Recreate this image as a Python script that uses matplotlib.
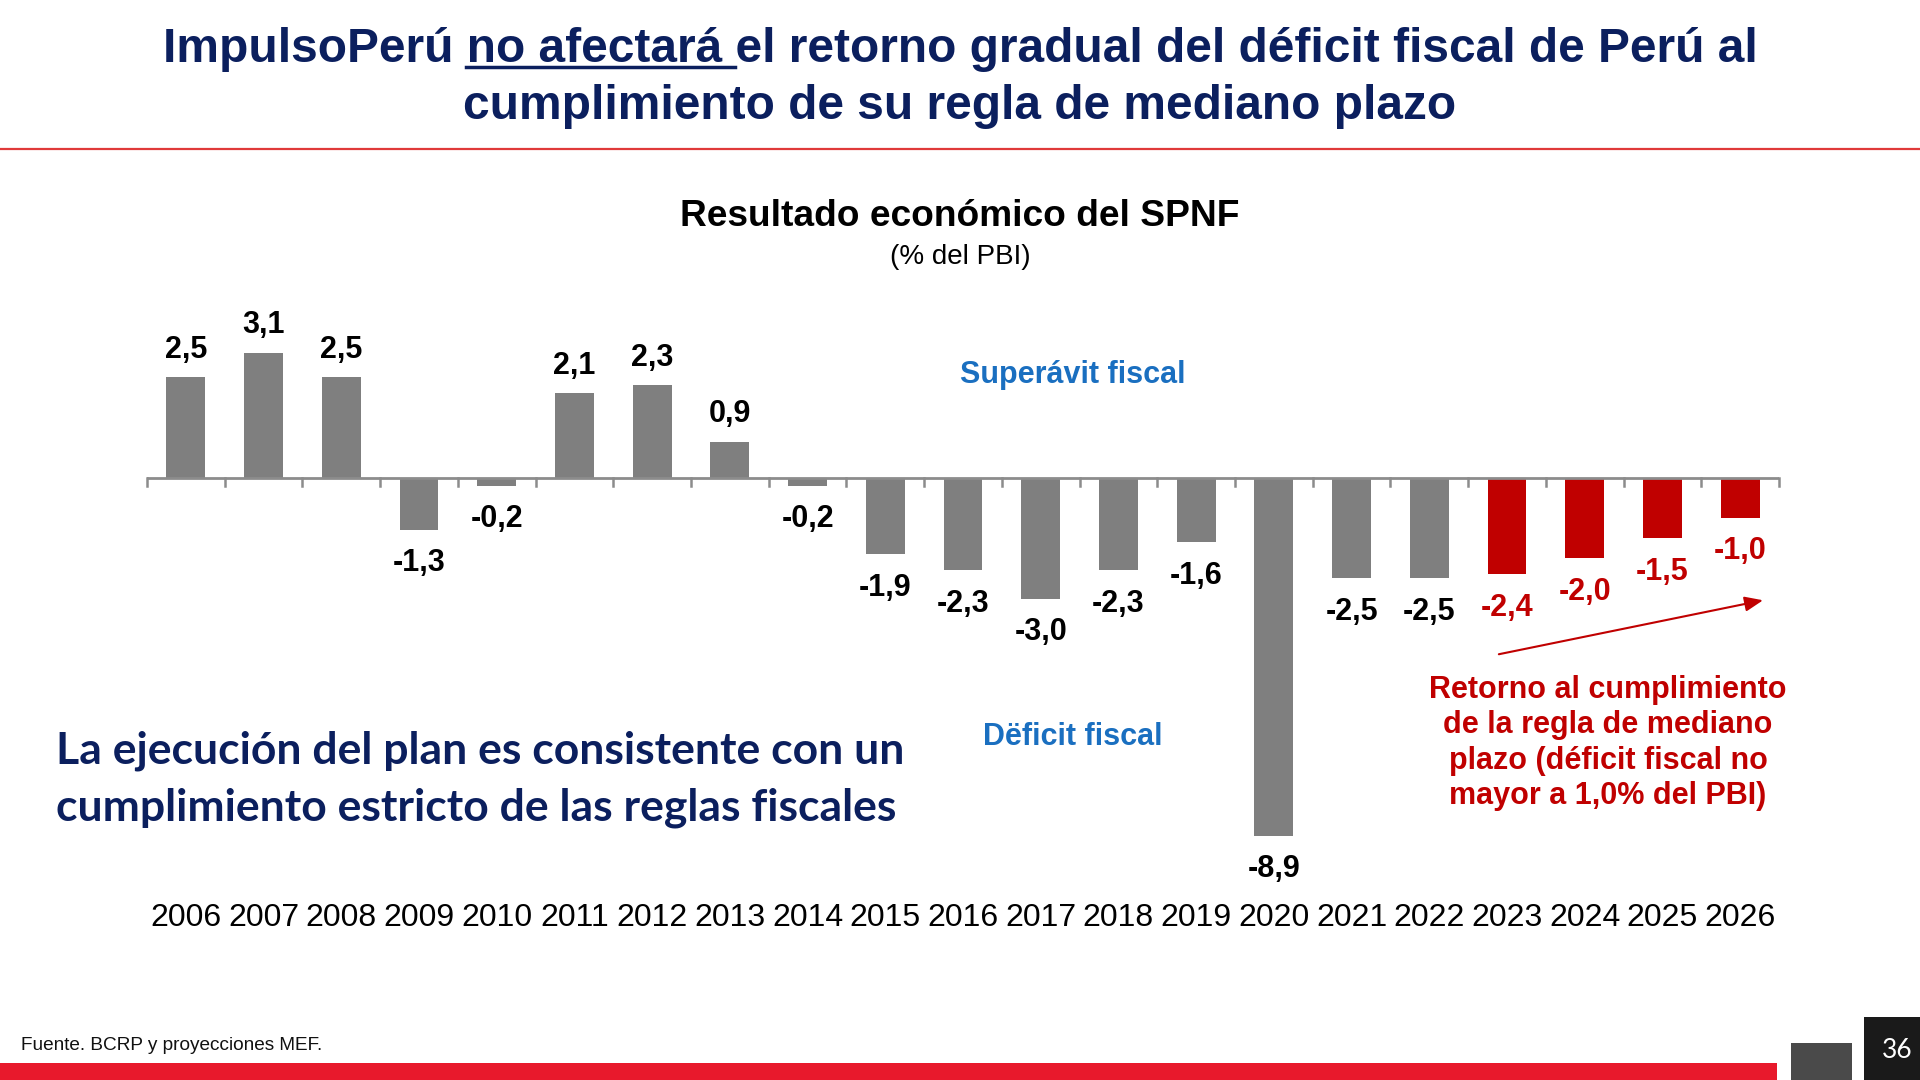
import numpy as np
import matplotlib
matplotlib.use("Agg")
import matplotlib.pyplot as plt
import matplotlib.transforms as mtrans

# datos
years = ["2006", "2007", "2008", "2009", "2010", "2011", "2012", "2013", "2014", "2015",
         "2016", "2017", "2018", "2019", "2020", "2021", "2022", "2023", "2024", "2025", "2026"]
values = [2.5, 3.1, 2.5, -1.3, -0.2, 2.1, 2.3, 0.9, -0.2, -1.9,
          -2.3, -3.0, -2.3, -1.6, -8.9, -2.5, -2.5, -2.4, -2.0, -1.5, -1.0]
proyeccion = [False] * 17 + [True] * 4

NAVY = "#0b1f5e"
GRAY = "#7f7f7f"
DRED = "#c00000"
BLUE = "#1a6fc0"

plt.rcParams["font.family"] = ["Liberation Sans", "DejaVu Sans"]

fig = plt.figure(figsize=(19.2, 10.8), dpi=100)
W, H = 1920, 1080

def fx(px):
    return px / W

def fy(py):
    return 1 - py / H

# titulo
tkw = dict(fontsize=34.5, fontweight="bold", color=NAVY, ha="center", va="baseline")
line1 = "ImpulsoPerú no afectará el retorno gradual del déficit fiscal de Perú al"
fig.text(0.5, fy(62), line1, **tkw)
fig.text(0.5, fy(119), "cumplimiento de su regla de mediano plazo", **tkw)

r = fig.canvas.get_renderer()
def wpx(s):
    t = fig.text(0, 0, s, **tkw)
    w = t.get_window_extent(r).width
    t.remove()
    return w

total = wpx(line1)
x0 = W / 2 - total / 2
u_start = x0 + wpx("ImpulsoPerú n") - wpx("n")
u_end = x0 + wpx("ImpulsoPerú no afectará e") - wpx("e")
fig.add_artist(plt.Line2D([fx(u_start), fx(u_end)], [fy(67), fy(67)], color=NAVY, lw=2.5))

# linea roja
fig.add_artist(plt.Line2D([0, 1], [fy(149), fy(149)], color="#e03a3a", lw=1.6))

# grafico
ax = fig.add_axes([fx(147), fy(880), fx(1779 - 147), (880 - 317) / H])
x = np.arange(len(years))
colors = [DRED if p else GRAY for p in proyeccion]
ax.bar(x, values, width=0.5, color=colors, zorder=2)
ax.set_xlim(-0.5, len(years) - 0.5)
ax.set_ylim(-10, 4)
ax.axis("off")

ax.axhline(0, color="#8c8c8c", lw=2, zorder=3)
for b in np.arange(-0.5, len(years), 1.0):
    ax.plot([b, b], [0, -0.2], color="#8c8c8c", lw=1.8, zorder=3, clip_on=False)

for xi, v, p in zip(x, values, proyeccion):
    lab = f"{v:.1f}".replace(".", ",")
    off = 20 if v >= 0 else -24
    ax.annotate(lab, (xi, v), xytext=(0, off), textcoords="offset points",
                ha="center", va="center", fontsize=22, fontweight="bold",
                color=DRED if p else "black")

# etiquetas de años
tr = mtrans.blended_transform_factory(ax.transData, fig.transFigure)
for xi, yr in zip(x, years):
    ax.text(xi, fy(918), yr, transform=tr, ha="center", va="center", fontsize=23)

fig.text(0.5, fy(217), "Resultado económico del SPNF", ha="center", va="center",
         fontsize=26.7, fontweight="bold", color="black")
fig.text(0.5, fy(257), "(% del PBI)", ha="center", va="center", fontsize=20, color="black")

fig.text(fx(1073), fy(375), "Superávit fiscal", ha="center", va="center",
         fontsize=22, fontweight="bold", color=BLUE)
fig.text(fx(1073), fy(737), "Dëficit fiscal", ha="center", va="center",
         fontsize=22, fontweight="bold", color=BLUE)

fig.text(fx(56), fy(779), "La ejecución del plan es consistente con un\ncumplimiento estricto de las reglas fiscales",
         ha="left", va="center", fontsize=32, fontweight="bold", color=NAVY,
         family=["Lato", "DejaVu Sans"], linespacing=1.5)

fig.text(fx(1608), fy(743), "Retorno al cumplimiento\nde la regla de mediano\nplazo (déficit fiscal no\nmayor a 1,0% del PBI)",
         ha="center", va="center", fontsize=22, fontweight="bold", color=DRED, linespacing=1.24)

ax.annotate("", xy=(20.33, -3.03), xytext=(16.86, -4.40),
            arrowprops=dict(arrowstyle="-|>,head_length=1.1,head_width=0.45", color=DRED, lw=1.5))

# pie
fig.text(fx(21), fy(1046), "Fuente. BCRP y proyecciones MEF.", ha="left", va="center",
         fontsize=13.7, color="#111111")
fig.add_artist(plt.Rectangle((0, 0), fx(1777), 17 / H, color="#e8192c", lw=0))
fig.add_artist(plt.Rectangle((fx(1791), 0), fx(61), 37 / H, color="#4a4a4a", lw=0))
fig.add_artist(plt.Rectangle((fx(1864), 0), fx(56), 63 / H, color="#1a1a1a", lw=0))
fig.text(fx(1897), fy(1050), "36", ha="center", va="center", fontsize=19, color="white",
         family=["Lato", "DejaVu Sans"])

fig.savefig("out.png", dpi=100)
